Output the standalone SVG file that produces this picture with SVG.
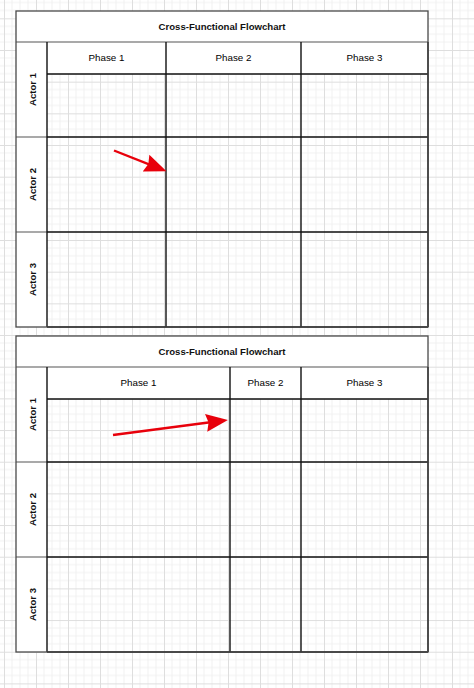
<svg xmlns="http://www.w3.org/2000/svg" width="474" height="688" viewBox="0 0 474 688">
<defs>
<pattern id="grid" x="4" y="18.33" width="32" height="31.67" patternUnits="userSpaceOnUse">
<path d="M8 0V31.67M16 0V31.67M24 0V31.67M0 7.92H32M0 15.83H32M0 23.75H32" stroke="#f1f1f1" stroke-width="1" fill="none"/>
<path d="M0.5 0V31.67M0 0.5H32" stroke="#dedede" stroke-width="1" fill="none"/>
</pattern>
<marker id="arrow" viewBox="0 0 22 20" refX="12" refY="10" markerWidth="22" markerHeight="20" markerUnits="userSpaceOnUse" orient="auto">
<path d="M0 1L22 10L0 19L2.5 10Z" fill="#e8000b"/>
</marker>
</defs>
<style>
.bg{fill:#ffffff}
.hdr{fill:#ffffff;stroke:none}
.outer{fill:none;stroke:#4a4a4a;stroke-width:1.3}
.cell{fill:none;stroke:#111111;stroke-width:1.4}
.soft{fill:none;stroke:#555555;stroke-width:1.2}
.title{font-family:"Liberation Sans",Arial,sans-serif;font-size:9.6px;font-weight:bold;fill:#111;text-anchor:middle}
.phase{font-family:"Liberation Sans",Arial,sans-serif;font-size:9.8px;fill:#000;text-anchor:middle}
.actor{font-family:"Liberation Sans",Arial,sans-serif;font-size:9.6px;font-weight:bold;fill:#111;text-anchor:middle}
.conn{fill:none;stroke:#e8000b;stroke-width:2.4;marker-end:url(#arrow)}
</style>
<rect class="bg" x="0" y="0" width="474" height="688"/>
<rect x="0" y="0" width="474" height="688" fill="url(#grid)"/>

<g id="pool1">
<rect class="hdr" x="16" y="11" width="412" height="63"/>
<rect class="hdr" x="16" y="74" width="31" height="253"/>
<g id="pool1-title"><text class="title" x="222" y="30">Cross-Functional Flowchart</text></g>
<g id="pool1-phase1"><text class="phase" x="106.5" y="61.4">Phase 1</text></g>
<g id="pool1-phase2"><text class="phase" x="233.5" y="61.4">Phase 2</text></g>
<g id="pool1-phase3"><text class="phase" x="364.5" y="61.4">Phase 3</text></g>
<g id="pool1-actor1"><text class="actor" transform="translate(32.5,89.5) rotate(-90)" x="0" y="3.4">Actor 1</text></g>
<g id="pool1-actor2"><text class="actor" transform="translate(32.5,184.5) rotate(-90)" x="0" y="3.4">Actor 2</text></g>
<g id="pool1-actor3"><text class="actor" transform="translate(32.5,279.5) rotate(-90)" x="0" y="3.4">Actor 3</text></g>
<path class="soft" d="M16 42H428M16 137H47M16 232H47"/>
<path class="cell" d="M47 74H428M47 137H428M47 232H428M47 327H428M47 42V327M166 42V327M301 42V327M428 42V327"/>
<rect class="outer" x="16" y="11" width="412" height="316"/>
</g>

<g id="pool2">
<rect class="hdr" x="16" y="336" width="412" height="63"/>
<rect class="hdr" x="16" y="399" width="31" height="253"/>
<g id="pool2-title"><text class="title" x="222" y="355">Cross-Functional Flowchart</text></g>
<g id="pool2-phase1"><text class="phase" x="138.5" y="386.4">Phase 1</text></g>
<g id="pool2-phase2"><text class="phase" x="265.5" y="386.4">Phase 2</text></g>
<g id="pool2-phase3"><text class="phase" x="364.5" y="386.4">Phase 3</text></g>
<g id="pool2-actor1"><text class="actor" transform="translate(32.5,414.5) rotate(-90)" x="0" y="3.4">Actor 1</text></g>
<g id="pool2-actor2"><text class="actor" transform="translate(32.5,509.5) rotate(-90)" x="0" y="3.4">Actor 2</text></g>
<g id="pool2-actor3"><text class="actor" transform="translate(32.5,604.5) rotate(-90)" x="0" y="3.4">Actor 3</text></g>
<path class="soft" d="M16 367H428M16 462H47M16 557H47"/>
<path class="cell" d="M47 399H428M47 462H428M47 557H428M47 652H428M47 367V652M230 367V652M301 367V652M428 367V652"/>
<rect class="outer" x="16" y="336" width="412" height="316"/>
</g>

<g id="connectors">
<path class="conn" d="M114 150.5L157.2 167.6"/>
<path class="conn" d="M113 435L218 421.3"/>
</g>
</svg>
